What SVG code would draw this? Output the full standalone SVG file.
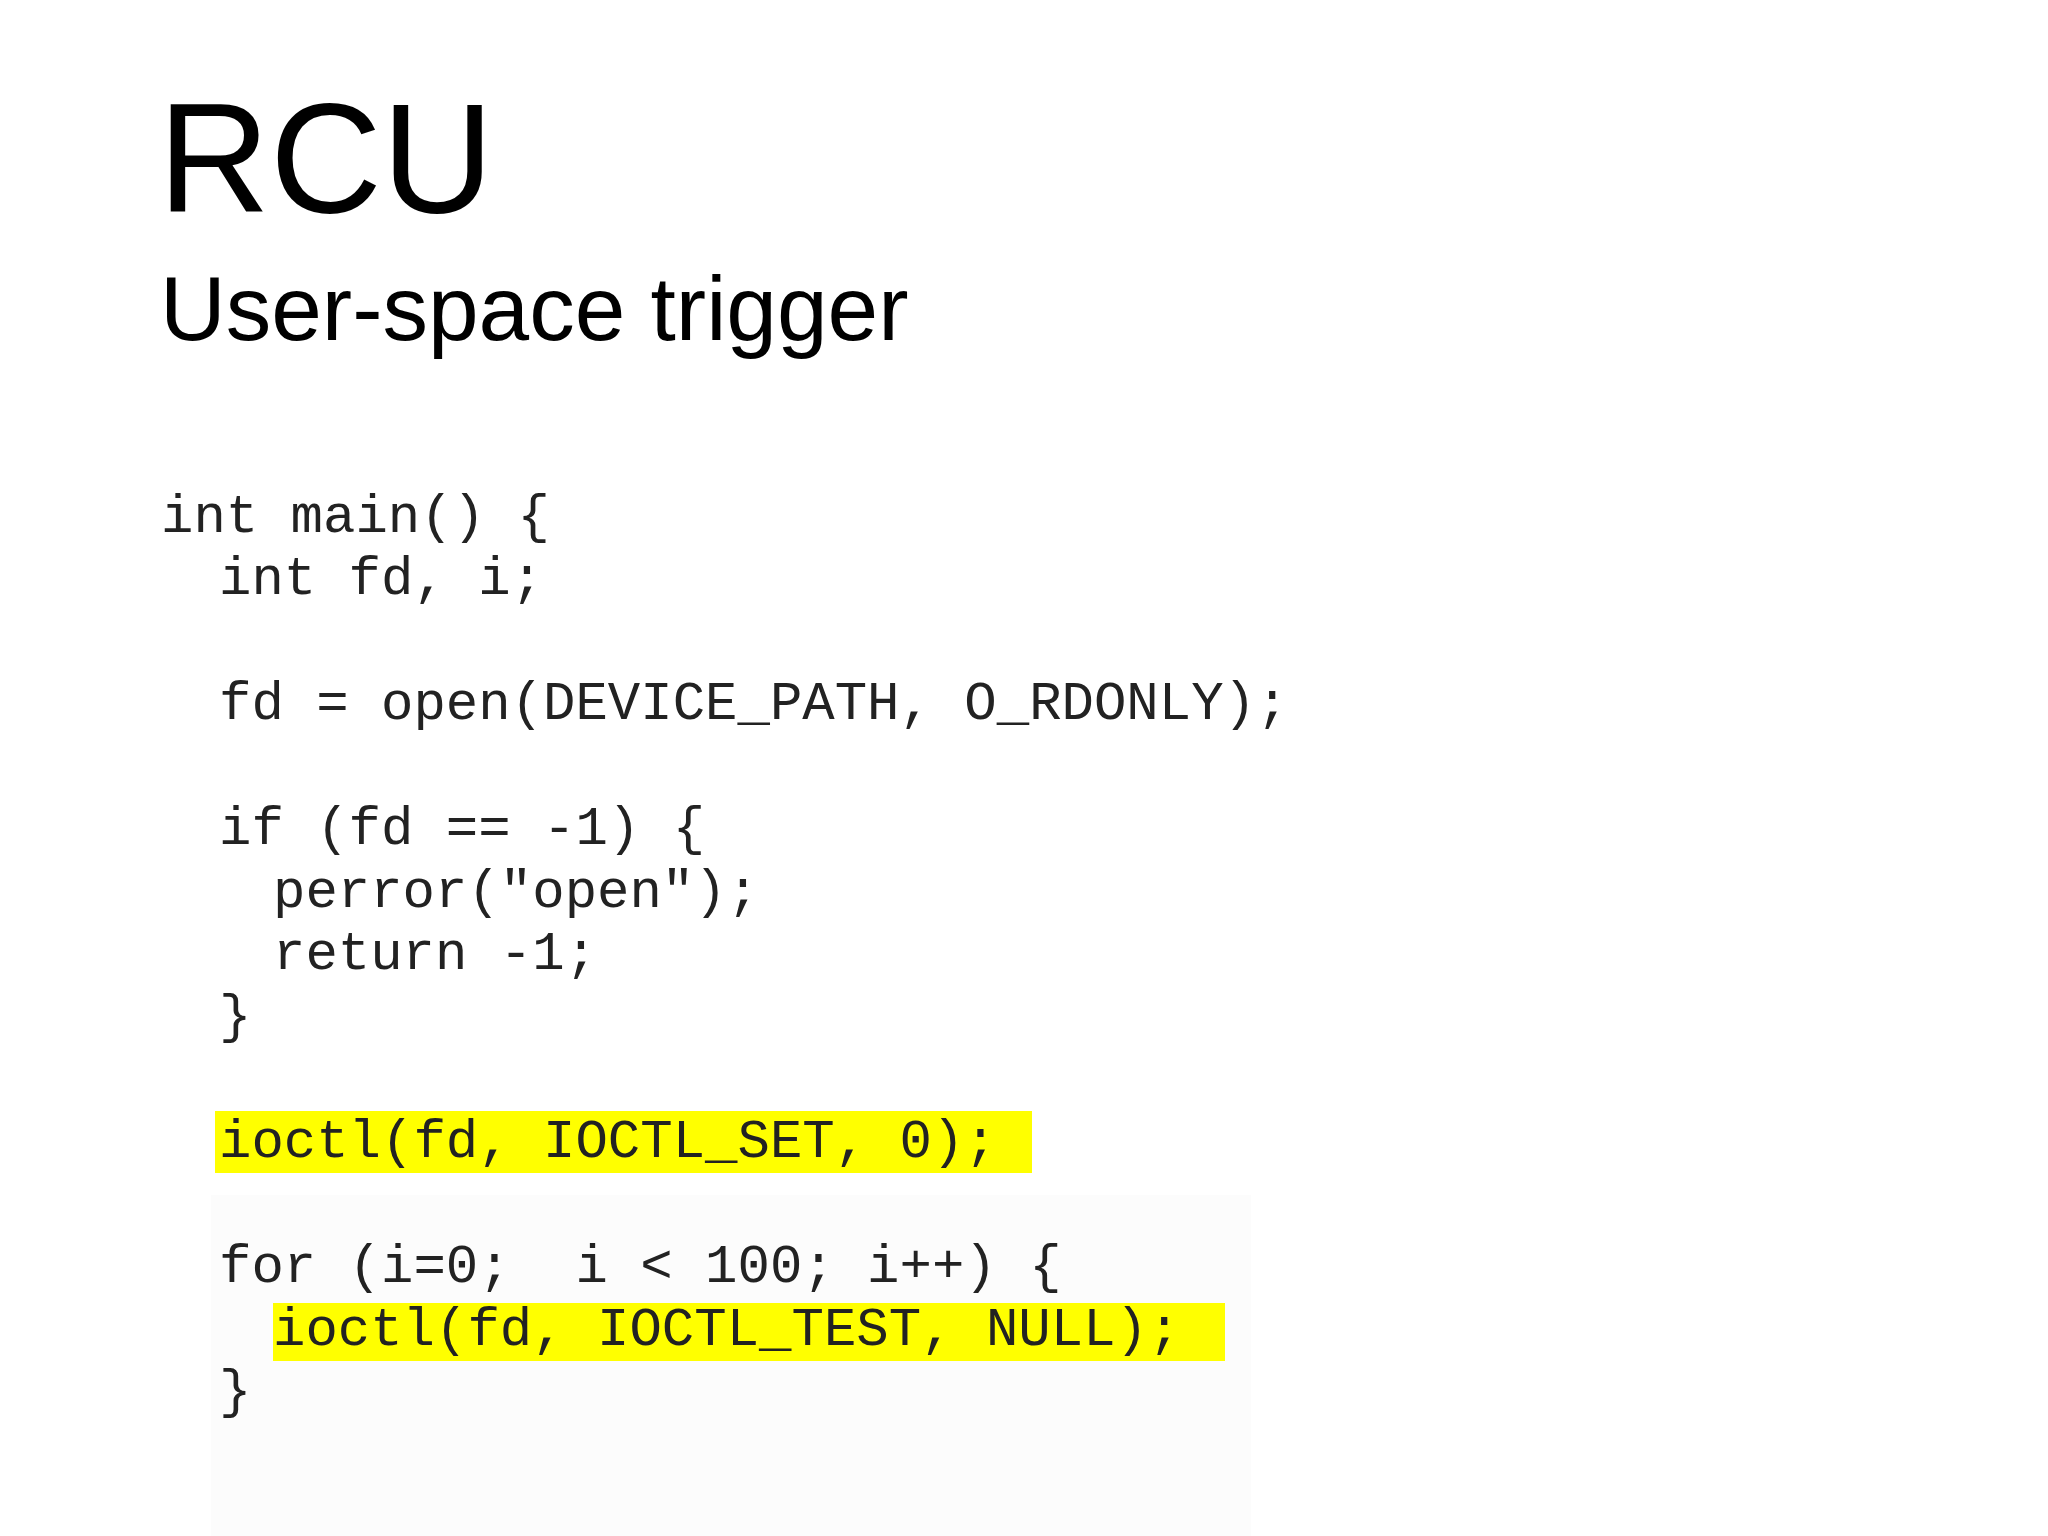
<svg xmlns="http://www.w3.org/2000/svg" width="2048" height="1536" viewBox="0 0 2048 1536">
<style>
.code{font-family:"Liberation Mono","Courier New",monospace;font-size:54px;fill:#222}
.t{font-family:"Liberation Sans",Arial,sans-serif;fill:#000}
</style>
<rect width="2048" height="1536" fill="#fff"/>
<rect x="211" y="1195" width="1040" height="341" fill="#fcfcfc"/>
<text class="t" x="158" y="212" font-size="155">RCU</text>
<text class="t" x="160" y="340" font-size="91">User-space trigger</text>
<rect x="215" y="1111" width="817" height="62" fill="#ffff00"/>
<rect x="273" y="1303" width="952" height="58" fill="#ffff00"/>
<g class="code">
<text x="161" y="532">int main() {</text>
<text x="219" y="594">int fd, i;</text>
<text x="219" y="719">fd = open(DEVICE_PATH, O_RDONLY);</text>
<text x="219" y="844">if (fd == -1) {</text>
<text x="273" y="907">perror("open");</text>
<text x="273" y="969">return -1;</text>
<text x="219" y="1032">}</text>
<text x="219" y="1157">ioctl(fd, IOCTL_SET, 0);</text>
<text x="219" y="1282">for (i=0;&#160; i &lt; 100; i++) {</text>
<text x="273" y="1345">ioctl(fd, IOCTL_TEST, NULL);</text>
<text x="219" y="1407">}</text>
</g>
</svg>
